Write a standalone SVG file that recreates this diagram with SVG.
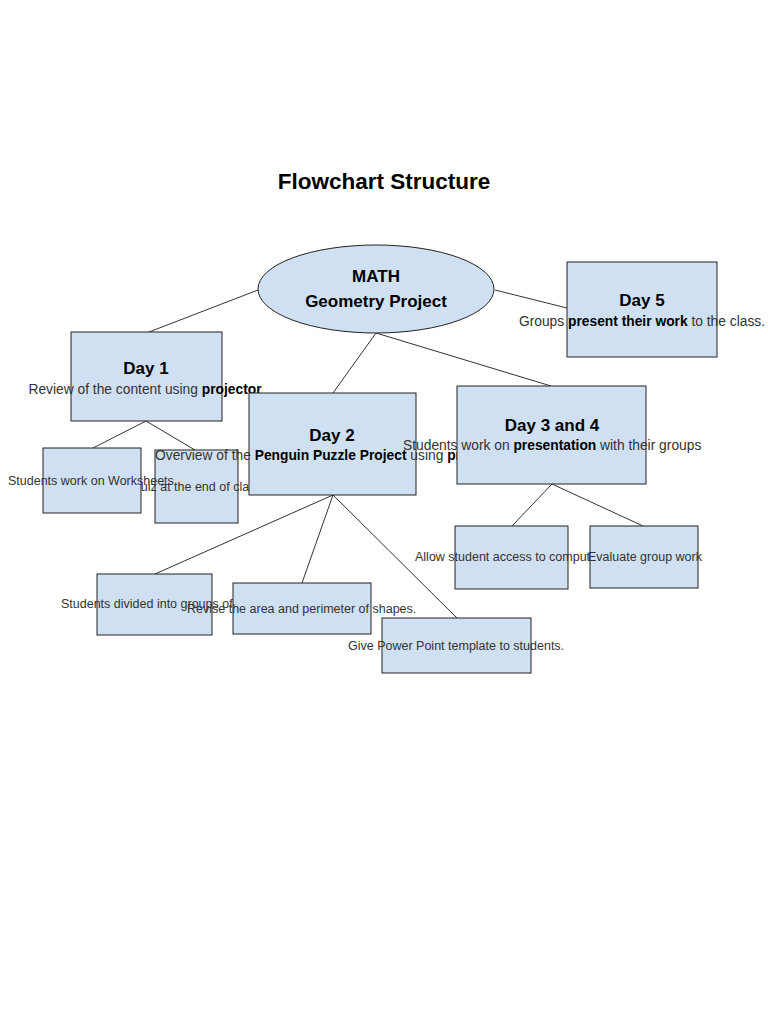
<svg xmlns="http://www.w3.org/2000/svg" width="768" height="1024" viewBox="0 0 768 1024">
<style>
.b{fill:#cfe0f2;stroke:#222;stroke-width:1}
.h{font-family:"Liberation Sans",Arial,sans-serif;font-size:17px;font-weight:bold;fill:#000;text-anchor:middle}
.t{font-family:"Liberation Sans",Arial,sans-serif;font-size:12.5px;fill:#333}
.m{font-size:13.8px}
.t tspan.k{font-weight:bold;fill:#000}
.c line{stroke:#333;stroke-width:1}
</style>
<rect width="768" height="1024" fill="#fff"/>
<text x="384" y="189" font-family="Liberation Sans,Arial,sans-serif" font-size="22.5" font-weight="bold" text-anchor="middle">Flowchart Structure</text>
<g class="c" id="connectors">
<line x1="258" y1="290" x2="149" y2="332"/>
<line x1="495" y1="290" x2="567" y2="308"/>
<line x1="376" y1="333" x2="333" y2="393"/>
<line x1="376" y1="333" x2="551" y2="386"/>
<line x1="146" y1="421" x2="93" y2="448"/>
<line x1="146" y1="421" x2="195" y2="450"/>
<line x1="333" y1="495" x2="155" y2="574"/>
<line x1="333" y1="495" x2="302" y2="583"/>
<line x1="333" y1="495" x2="457" y2="618"/>
<line x1="552" y1="484" x2="512" y2="526"/>
<line x1="552" y1="484" x2="643" y2="526"/>
</g>
<g id="math"><ellipse cx="376" cy="289" rx="118" ry="44" class="b"/>
<text class="h" x="376" y="282">MATH</text><text class="h" x="376" y="307">Geometry Project</text></g>
<g id="day5"><rect x="567" y="262" width="150" height="95" class="b"/>
<text class="h" x="642" y="306">Day 5</text>
<text class="t m" x="642" y="326" text-anchor="middle">Groups <tspan class="k">present their work</tspan> to the class.</text></g>
<g id="day1"><rect x="71" y="332" width="151" height="89" class="b"/>
<text class="h" x="146" y="374">Day 1</text>
<text class="t m" x="145" y="394" text-anchor="middle">Review of the content using <tspan class="k">projector</tspan></text></g>
<g id="quiz"><rect x="155" y="450" width="83" height="73" class="b"/>
<text class="t" x="131" y="491">Quiz at the end of class</text></g>
<g id="worksheets"><rect x="43" y="448" width="98" height="65" class="b"/>
<text class="t" x="8" y="485">Students work on Worksheets.</text></g>
<g id="day2"><rect x="249" y="393" width="167" height="102" class="b"/>
<text class="h" x="332" y="441">Day 2</text>
<text class="t m" x="155" y="460">Overview of the <tspan class="k">Penguin Puzzle Project</tspan> using <tspan class="k">projector</tspan></text></g>
<g id="day34"><rect x="457" y="386" width="189" height="98" class="b"/>
<text class="h" x="552" y="431">Day 3 and 4</text>
<text class="t m" x="403" y="450">Students work on <tspan class="k">presentation</tspan> with their groups</text></g>
<g id="groups"><rect x="97" y="574" width="115" height="61" class="b"/>
<text class="t" x="61" y="608">Students divided into groups of 3</text></g>
<g id="revise"><rect x="233" y="583" width="138" height="51" class="b"/>
<text class="t" x="187" y="613">Revise the area and perimeter of shapes.</text></g>
<g id="ppt"><rect x="382" y="618" width="149" height="55" class="b"/>
<text class="t" x="348" y="650">Give Power Point template to students.</text></g>
<g id="access"><rect x="455" y="526" width="113" height="63" class="b"/>
<text class="t" x="415" y="561">Allow student access to computers</text></g>
<g id="evaluate"><rect x="590" y="526" width="108" height="62" class="b"/>
<text class="t" x="588" y="561">Evaluate group work</text></g>
</svg>
